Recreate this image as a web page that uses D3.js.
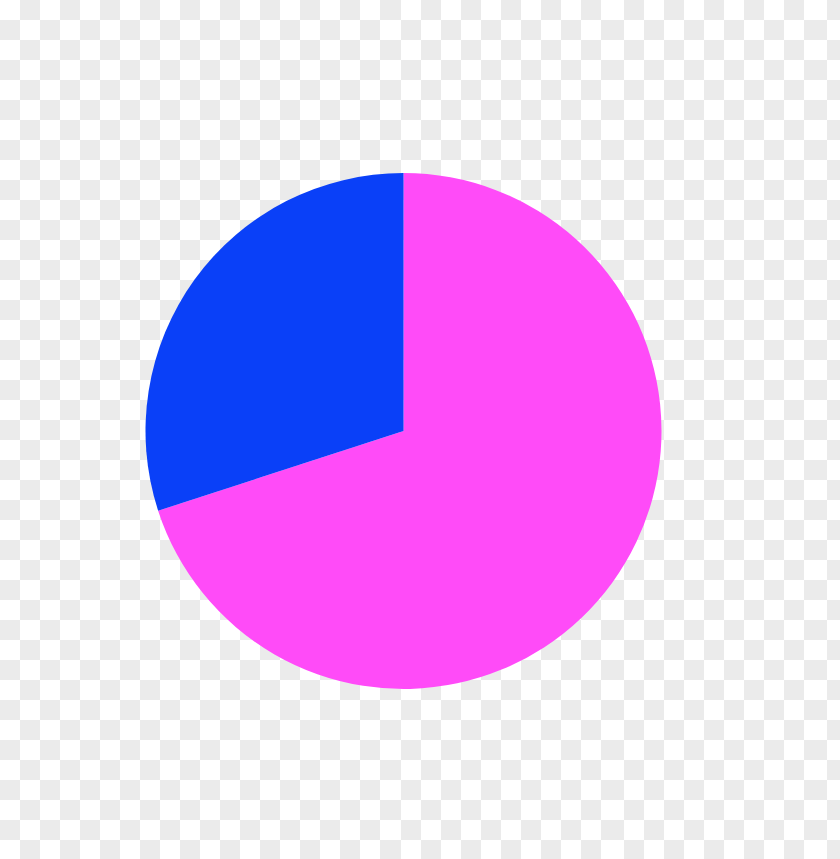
<!DOCTYPE html>
<html>
<head>
<meta charset="utf-8">
<script src="https://cdn.jsdelivr.net/npm/d3@7"></script>
<style>
html,body{margin:0;padding:0;background:#fff;}
svg{display:block;}
</style>
</head>
<body>
<svg id="chart" width="840" height="859"></svg>
<script>
const categories = ["A", "B"];
const values = [70, 30];
const colors = ["#FF4BF8", "#0A40F8"];

const W = 840, H = 859;
const svg = d3.select("#chart");

// checkerboard background (transparency pattern)
const bg = svg.append("g");
function colEdge(k){ return 20*k + (k>=20?1:0) + (k>=31?3:0) + (k>=41?3:0); }
const cells = [];
for (let r = 0; r * 20 < H; r++) {
  for (let c = 0; colEdge(c) < W; c++) {
    if ((r + c) % 2 === 1) cells.push({x: colEdge(c), w: colEdge(c+1) - colEdge(c), y: r*20});
  }
}
bg.selectAll("rect").data(cells).join("rect")
  .attr("x", d => d.x).attr("y", d => d.y)
  .attr("width", d => d.w).attr("height", 20)
  .attr("fill", "#EBEBEB");

const cx = 403.5, cy = 431, R = 258;
const pie = d3.pie().sort(null).value(d => d.v).startAngle(0).endAngle(2*Math.PI);
const arc = d3.arc().innerRadius(0).outerRadius(R);
const data = categories.map((c,i) => ({c, v: values[i], col: colors[i]}));

svg.append("g").attr("transform", `translate(${cx},${cy})`)
  .selectAll("path").data(pie(data)).join("path")
  .attr("d", arc)
  .attr("fill", d => d.data.col);
</script>
</body>
</html>
